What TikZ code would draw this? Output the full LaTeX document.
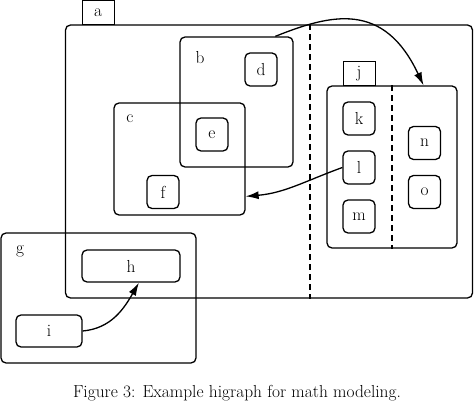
\documentclass[tikz,border=0pt]{standalone}
\usetikzlibrary{arrows.meta,calc}
\begin{document}
\begin{tikzpicture}[x=1pt,y=1pt,
  every node/.style={font=\fontsize{17.4}{20}\selectfont},
  container/.style={draw,line width=1.3pt,rounded corners=5pt,inner sep=0pt},
  leaf/.style={draw,line width=1.3pt,rounded corners=5pt,inner sep=0pt,minimum width=32pt,minimum height=33pt},
  tabbox/.style={draw,line width=1pt,inner sep=0pt,minimum width=32pt,minimum height=24pt},
  lbl/.style={inner sep=0pt,anchor=center},
  sep/.style={line width=1.3pt,dash pattern=on 6pt off 4pt},
  arr/.style={line width=1.3pt,-{Latex[length=13pt,width=8pt]}}
]
\useasboundingbox (0,0) rectangle (474,-403);
% tab a
\node[tabbox] (ta) at (98,-13) {a};
% a
\node[container,minimum width=407pt,minimum height=273pt] (a) at (269,-161.5) {};
% g
\node[container,minimum width=195pt,minimum height=130pt] (g) at (98.5,-298) {};
\node[lbl] (lg) at (20,-251) {g};
% b
\node[container,minimum width=113pt,minimum height=130pt] (b) at (236.5,-102) {};
\node[lbl] (lb) at (200,-58) {b};
% c
\node[container,minimum width=131pt,minimum height=112pt] (c) at (179.5,-159) {};
\node[lbl] (lc) at (130,-119) {c};
% leaves
\node[leaf] (d) at (261,-69.5) {d};
\node[leaf] (e) at (212,-134.5) {e};
\node[leaf] (f) at (163,-192) {f};
% j
\node[tabbox] (tj) at (359,-74) {j};
\node[container,minimum width=130pt,minimum height=162pt] (j) at (392,-167) {};
\node[leaf] (k) at (359,-118.5) {k};
\node[leaf] (l) at (359,-167.5) {l};
\node[leaf] (m) at (359,-216.5) {m};
\node[leaf] (n) at (424.5,-143) {n};
\node[leaf] (o) at (424.5,-192) {o};
% h, i
\node[leaf,minimum width=98pt,minimum height=32pt] (h) at (131,-266) {h};
\node[leaf,minimum width=66pt,minimum height=32pt] (i) at (49,-331) {i};
% separators
\draw[sep] (a.north) ++(41,0) coordinate (s1) -- (s1 |- a.south);
\draw[sep] (j.north) -- (j.south);
% arrows
\coordinate (bs) at ($(b.north west)!0.84!(b.north east)$);
\coordinate (je) at ($(j.north west)!0.74!(j.north east)$);
\draw[arr] (bs) .. controls +(55,22) and +(-40,85) .. (je);
\coordinate (ce) at ($(c.north east)!0.83!(c.south east)$);
\draw[arr] (l.west) to[out=200,in=5] (ce);
\coordinate (hb) at ($(h.south west)!0.58!(h.south east)$);
\draw[arr] (i.east) to[out=5,in=240] (hb);
% caption
\node (cap) at (237,-393) {Figure 3: Example higraph for math modeling.};
\end{tikzpicture}
\end{document}
